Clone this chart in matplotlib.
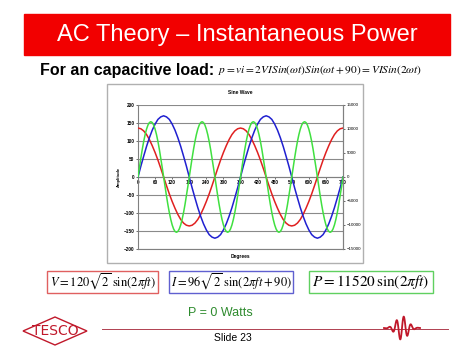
import matplotlib.pyplot as plt
from matplotlib.patches import Rectangle, Polygon
import numpy as np

plt.rcParams['font.family'] = ['Liberation Sans', 'DejaVu Sans']
plt.rcParams['mathtext.fontset'] = 'stix'

# data (degrees, left axis amplitude, right axis watts)
degrees = list(range(0, 721, 10))
voltage = [0, 30, 58, 85, 109, 130, 147, 160, 167, 170,
           167, 160, 147, 130, 109, 85, 58, 30, 0,
           -30, -58, -85, -109, -130, -147, -160, -167, -170,
           -167, -160, -147, -130, -109, -85, -58, -30, 0,
           30, 58, 85, 109, 130, 147, 160, 167, 170,
           167, 160, 147, 130, 109, 85, 58, 30, 0,
           -30, -58, -85, -109, -130, -147, -160, -167, -170,
           -167, -160, -147, -130, -109, -85, -58, -30, 0]
current = [136, 134, 128, 118, 104, 87, 68, 47, 24, 0,
           -24, -47, -68, -87, -104, -118, -128, -134, -136,
           -134, -128, -118, -104, -87, -68, -47, -24, 0,
           24, 47, 68, 87, 104, 118, 128, 134, 136,
           134, 128, 118, 104, 87, 68, 47, 24, 0,
           -24, -47, -68, -87, -104, -118, -128, -134, -136,
           -134, -128, -118, -104, -87, -68, -47, -24, 0,
           24, 47, 68, 87, 104, 118, 128, 134, 136]

degrees_p = list(range(0, 721, 5))
power = [0, 2000, 3940, 5760, 7405, 8825, 9977, 10825, 11345, 11520,
         11345, 10825, 9977, 8825, 7405, 5760, 3940, 2000, 0,
         -2000, -3940, -5760, -7405, -8825, -9977, -10825, -11345, -11520,
         -11345, -10825, -9977, -8825, -7405, -5760, -3940, -2000, 0,
         2000, 3940, 5760, 7405, 8825, 9977, 10825, 11345, 11520,
         11345, 10825, 9977, 8825, 7405, 5760, 3940, 2000, 0,
         -2000, -3940, -5760, -7405, -8825, -9977, -10825, -11345, -11520,
         -11345, -10825, -9977, -8825, -7405, -5760, -3940, -2000, 0,
         2000, 3940, 5760, 7405, 8825, 9977, 10825, 11345, 11520,
         11345, 10825, 9977, 8825, 7405, 5760, 3940, 2000, 0,
         -2000, -3940, -5760, -7405, -8825, -9977, -10825, -11345, -11520,
         -11345, -10825, -9977, -8825, -7405, -5760, -3940, -2000, 0,
         2000, 3940, 5760, 7405, 8825, 9977, 10825, 11345, 11520,
         11345, 10825, 9977, 8825, 7405, 5760, 3940, 2000, 0,
         -2000, -3940, -5760, -7405, -8825, -9977, -10825, -11345, -11520,
         -11345, -10825, -9977, -8825, -7405, -5760, -3940, -2000, 0]

x_ticks = [0, 60, 120, 180, 240, 300, 360, 420, 480, 540, 600, 660, 720]
left_ticks = [-200, -150, -100, -50, 0, 50, 100, 150, 200]
right_ticks = [-15000, -10000, -5000, 0, 5000, 10000, 15000]

W, H = 474, 355


def fx(px):
    return px / W


def fy(py):
    return 1 - py / H


fig = plt.figure(figsize=(W / 100, H / 100), dpi=100)

# title banner
fig.patches.append(Rectangle((fx(24), fy(55)), fx(450) - fx(24), fy(14) - fy(55),
                             transform=fig.transFigure, color='#f20000', zorder=0))
fig.text(fx(237), fy(35), 'AC Theory \u2013 Instantaneous Power', color='white',
         fontsize=17, ha='center', va='center')

fig.text(fx(40), fy(71), 'For an capacitive load:', fontsize=11.5, fontweight='bold',
         ha='left', va='center')
fig.text(fx(218), fy(70), r'$p = vi = 2VISin(\omega t)Sin(\omega t + 90) = VISin(2\omega t)$',
         fontsize=8.2, ha='left', va='center')

# chart frame
fig.patches.append(Rectangle((fx(107), fy(263)), fx(363) - fx(107), fy(84) - fy(263),
                             transform=fig.transFigure, fill=False, edgecolor='#b0b0b0',
                             linewidth=1.0, zorder=0))

ax = fig.add_axes([fx(138), fy(249), fx(343) - fx(138), fy(105) - fy(249)])
ax.plot(degrees, current, color='#e02020', linewidth=1.1, zorder=3)
ax.plot(degrees, voltage, color='#2020d0', linewidth=1.1, zorder=3)
ax.set_xlim(0, 720)
ax.set_ylim(-200, 200)
ax.set_yticks(left_ticks)
ax.set_xticks(x_ticks)
ax.grid(axis='y', color='#8a8a8a', linewidth=0.8)
ax.set_axisbelow(True)
ax.spines['bottom'].set_position(('data', 0))
ax.spines['bottom'].set_color('#808080')
ax.spines['left'].set_color('#808080')
ax.spines['right'].set_color('#808080')
ax.spines['top'].set_visible(False)
ax.tick_params(labelsize=3.4, length=1.5, width=0.4, pad=1)
for lab in ax.get_xticklabels() + ax.get_yticklabels():
    lab.set_fontweight('bold')
ax.set_title('Sine Wave', fontsize=3.5, fontweight='bold', pad=8)
ax.text(360, -222, 'Degrees', fontsize=3.5, fontweight='bold', ha='center', va='center')
ax.set_ylabel('Amplitude', fontsize=3, fontweight='bold', labelpad=2)

ax2 = ax.twinx()
ax2.plot(degrees_p, power, color='#40e040', linewidth=1.1, zorder=3)
ax2.set_ylim(-15000, 15000)
ax2.set_yticks(right_ticks)
ax2.tick_params(labelsize=3.2, length=1.5, width=0.4, pad=1)
for sp in ax2.spines.values():
    sp.set_visible(False)
ax2.spines['right'].set_visible(True)
ax2.spines['right'].set_color('#808080')
ax2.plot([0, 720], [-15000, -15000], color='#808080', linewidth=0.8, clip_on=False)

# formula boxes
boxes = [
    (47, 158, r'$V = 120\sqrt{2}\;\sin(2\pi ft)$', '#e06060', 9),
    (169, 293, r'$I = 96\sqrt{2}\;\sin(2\pi ft + 90)$', '#6060d0', 9),
    (309, 433, r'$P = 11520\,\sin(2\pi ft)$', '#60d060', 11),
]
for x0, x1, txt, col, fs in boxes:
    fig.patches.append(Rectangle((fx(x0), fy(293)), fx(x1) - fx(x0), fy(271) - fy(293),
                                 transform=fig.transFigure, fill=False, edgecolor=col,
                                 linewidth=1.0))
    fig.text(fx((x0 + x1) / 2), fy(282), txt, fontsize=fs, ha='center', va='center')

fig.text(fx(220), fy(313), 'P = 0 Watts', color='#2e8b2e', fontsize=9, ha='center', va='center')

# footer
fig.add_artist(plt.Line2D([fx(102), fx(448)], [fy(329), fy(329)], color='#b04050',
                          linewidth=0.7, transform=fig.transFigure))
fig.text(fx(233), fy(338), 'Slide 23', fontsize=7.5, ha='center', va='center')

# TESCO logo
dia = [(23, 331), (55, 317), (87, 331), (55, 345)]
fig.patches.append(Polygon([(fx(a), fy(b)) for a, b in dia], closed=True, fill=False,
                           edgecolor='#c0182a', linewidth=1.0, transform=fig.transFigure))
fig.text(fx(55), fy(331), 'TESCO', color='#c0182a', fontsize=10, ha='center', va='center',
         family='Liberation Sans Narrow')

# wave logo
t = np.linspace(-1, 1, 120)
wx = 402 + 18 * t
wy = 328 - 12 * np.sin(t * 5 * np.pi) * np.exp(-(t * 2.2) ** 2)
fig.add_artist(plt.Line2D(fx(wx), fy(wy), color='#c0182a', linewidth=1.3,
                          transform=fig.transFigure))

fig.savefig('out.png', dpi=100)
